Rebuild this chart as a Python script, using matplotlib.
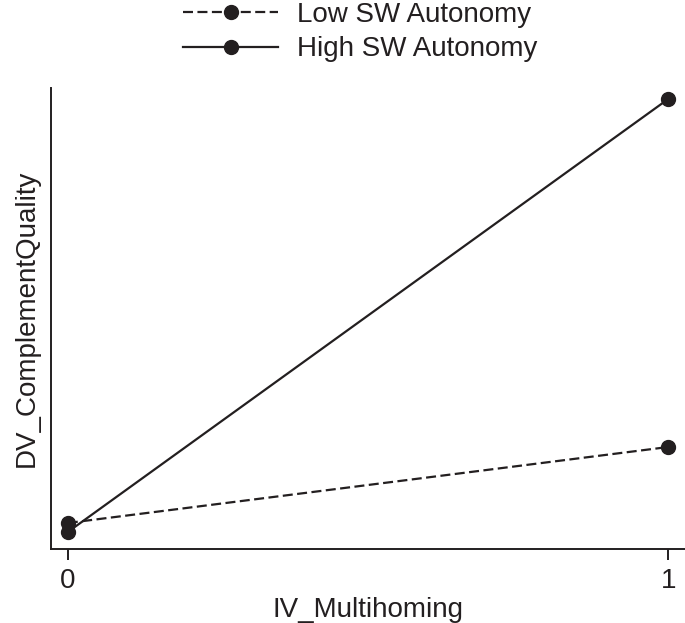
import matplotlib
matplotlib.use("Agg")
import matplotlib.pyplot as plt

# values (y units are arbitrary, no y ticks shown)
multihoming = [0, 1]
low_autonomy = [0.26, 1.02]
high_autonomy = [0.17, 4.50]
series_labels = ["Low SW Autonomy", "High SW Autonomy"]
x_ticks = [0, 1]
x_ticklabels = ["0", "1"]

ink = "#231f20"
plt.rcParams["font.family"] = ["Liberation Sans", "DejaVu Sans"]

fig = plt.figure(figsize=(6.85, 6.23), dpi=100)
ax = fig.add_axes([0.0745, 0.1188, 0.9255, 0.7399])

ax.plot(multihoming, low_autonomy, color=ink, lw=1.6, ls=(0, (4.5, 2)),
        marker="o", ms=10, label=series_labels[0])
ax.plot(multihoming, high_autonomy, color=ink, lw=1.6, ls="-",
        marker="o", ms=10, label=series_labels[1])

ax.set_xlim(-0.028, 1.028)
ax.set_ylim(0, 4.61)
ax.set_xticks(x_ticks)
ax.set_xticklabels(x_ticklabels)
ax.set_yticks([])
for s in ["top", "right"]:
    ax.spines[s].set_visible(False)
for s in ["left", "bottom"]:
    ax.spines[s].set_color(ink)
    ax.spines[s].set_linewidth(1.4)
ax.tick_params(axis="x", length=8, width=1.4, color=ink, labelcolor=ink,
               labelsize=20, pad=6)

ax.set_xlabel("IV_Multihoming", fontsize=20, color=ink, labelpad=2)
ax.set_ylabel("DV_ComplementQuality", fontsize=20, color=ink, labelpad=8)

fig.legend(loc="upper center", bbox_to_anchor=(0.526, 1.037), frameon=False,
           fontsize=20, handlelength=3.4, handletextpad=0.68,
           labelspacing=0.3, labelcolor=ink)

fig.savefig("out.png", dpi=100)
